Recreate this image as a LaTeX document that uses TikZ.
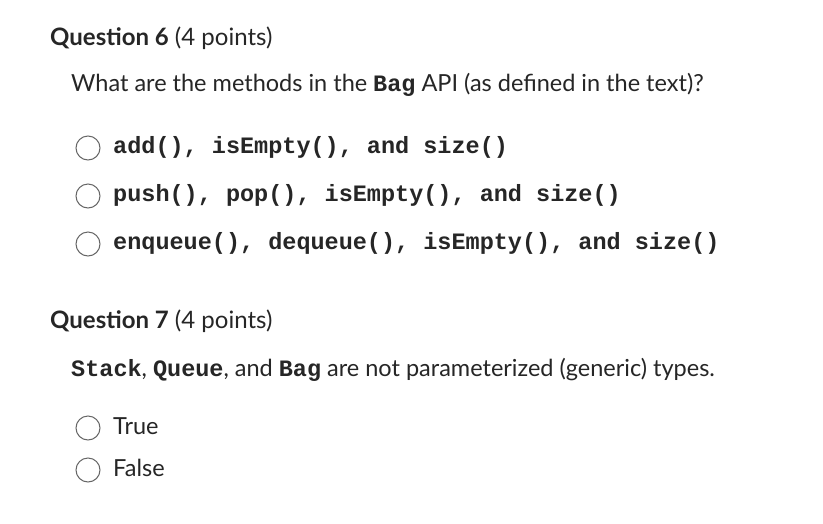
\documentclass[tikz,border=0pt]{standalone}
\usepackage{fontspec}
\setmainfont{Lato}
\setmonofont{Liberation Mono}
\begin{document}
\begin{tikzpicture}[x=1pt,y=-1pt,
  txt/.style={anchor=base west,inner sep=0pt,font=\fontsize{23.5}{28}\selectfont,text=black!85},
  ttl/.style={anchor=base west,inner sep=0pt,font=\fontsize{24}{28}\selectfont,text=black!85},
  opt/.style={anchor=base west,inner sep=0pt,font=\fontsize{23.5}{28}\selectfont\ttfamily\bfseries,text=black!85},
  radio/.style={circle,draw=black!60,line width=1pt,minimum size=24pt,inner sep=0pt,fill=white}]
\useasboundingbox[fill=white] (0,0) rectangle (823,523);
\node[ttl] (q6) at (50,45) {\textbf{Question 6} (4 points)};
\node[txt] (p6) at (71,91) {What are the methods in the \texttt{\bfseries Bag} API (as defined in the text)?};
\node[radio] (r1) at (88,148) {};
\node[radio] (r2) at (88,196) {};
\node[radio] (r3) at (88,244) {};
\node[opt] (o1) at (113,153) {add(), isEmpty(), and size()};
\node[opt] (o2) at (113,201) {push(), pop(), isEmpty(), and size()};
\node[opt] (o3) at (113,249) {enqueue(), dequeue(), isEmpty(), and size()};
\node[ttl] (q7) at (50,328) {\textbf{Question 7} (4 points)};
\node[txt] (p7) at (71,376) {\texttt{\bfseries Stack}, \texttt{\bfseries Queue}, and \texttt{\bfseries Bag} are not parameterized (generic) types.};
\node[radio] (r4) at (88,428) {};
\node[radio] (r5) at (88,470) {};
\node[txt] (t) at (113,434) {True};
\node[txt] (f) at (113,476) {False};
\end{tikzpicture}
\end{document}
